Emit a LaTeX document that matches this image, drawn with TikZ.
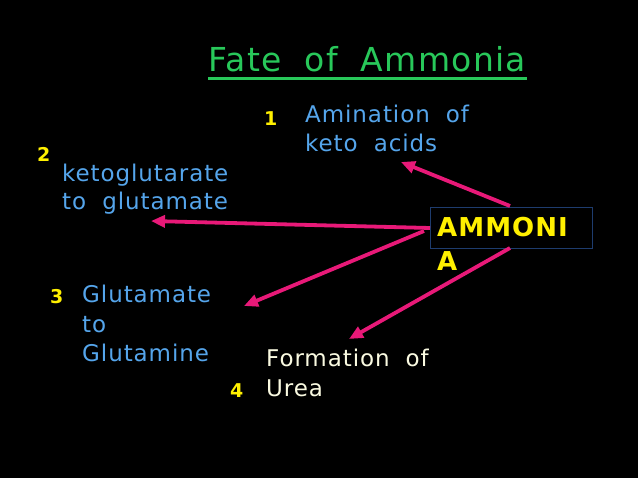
\documentclass[tikz,border=0pt]{standalone}
\usepackage{fontspec}
\setmainfont{DejaVu Sans}[LetterSpace=4]
\usetikzlibrary{arrows.meta}
\definecolor{ttlgreen}{RGB}{40,200,90}
\definecolor{txtblue}{RGB}{85,165,235}
\definecolor{arrpink}{RGB}{232,25,120}
\definecolor{numyellow}{RGB}{255,240,0}
\definecolor{boxblue}{RGB}{30,60,110}
\definecolor{cream}{RGB}{250,250,225}
\newcommand{\wsp}{\hspace{0.7em}}
\tikzset{
  lbl/.style={anchor=base west, inner sep=0pt, font=\fontsize{23}{27}\selectfont, text=txtblue},
  num/.style={anchor=base west, inner sep=0pt, font=\fontsize{19}{22}\selectfont\bfseries, text=numyellow},
  amm/.style={anchor=base west, inner sep=0pt, text=numyellow, font=\fontsize{26}{30}\addfontfeatures{LetterSpace=4}\selectfont\bfseries},
  arr/.style={draw=arrpink, line width=3.8pt, -{Triangle[length=14pt,width=12pt]}}
}
\begin{document}
\begin{tikzpicture}[x=1pt,y=-1pt]
\fill[black] (0,0) rectangle (638,478);
\useasboundingbox (0,0) rectangle (638,478);
% title
\node[anchor=base west, inner sep=0pt, text=ttlgreen, font=\fontsize{33}{38}\selectfont] (title) at (208,72) {Fate\wsp of\wsp Ammonia};
\draw[ttlgreen, line width=3pt] (208,78.5) -- (527,78.5);
% box
\node[draw=boxblue, line width=1pt, minimum width=162pt, minimum height=41pt, inner sep=0pt] (box) at (511,228) {};
\node[amm] (am1) at (437,237) {AMMONI};
\node[amm] (am2) at (437,271) {A};
% labels
\node[num] (n1) at (264,126) {1};
\node[lbl] (t1a) at (305,123) {Amination\wsp of};
\node[lbl] (t1b) at (305,152) {keto\wsp acids};
\node[num] (n2) at (37,162) {2};
\node[lbl] (t2a) at (62,182) {ketoglutarate};
\node[lbl] (t2b) at (62,210) {to\wsp glutamate};
\node[num] (n3) at (50,304) {3};
\node[lbl] (t3a) at (82,303) {Glutamate};
\node[lbl] (t3b) at (82,333) {to};
\node[lbl] (t3c) at (82,362) {Glutamine};
\node[lbl, text=cream] (t4a) at (266,367) {Formation\wsp of};
\node[lbl, text=cream] (t4b) at (266,397) {Urea};
\node[num] (n4) at (230,398) {4};
% arrow endpoints
\coordinate (s1) at (510,206);
\coordinate (e1) at (401,162);
\coordinate (s2) at (430,228);
\coordinate (e2) at (151,221);
\coordinate (s3) at (424,231);
\coordinate (e3) at (244,306);
\coordinate (s4) at (510,248);
\coordinate (e4) at (349,339);
\draw[arr] (s1) -- (e1);
\draw[arr] (s2) -- (e2);
\draw[arr] (s3) -- (e3);
\draw[arr] (s4) -- (e4);
\end{tikzpicture}
\end{document}
